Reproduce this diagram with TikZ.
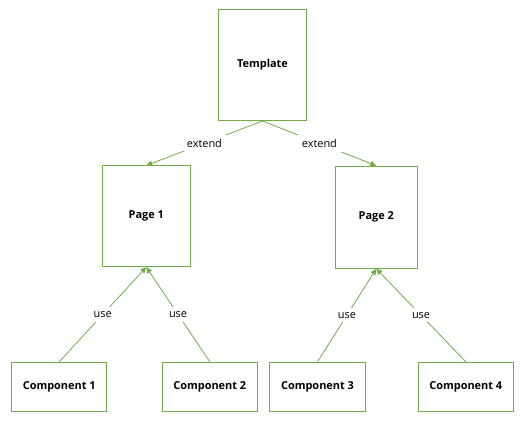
\documentclass[tikz,border=0pt]{standalone}
\usepackage{fontspec}
\setmainfont{Open Sans}
\usetikzlibrary{arrows.meta}
\definecolor{linegreen}{HTML}{70AD47}
\tikzset{
	box/.style={draw=linegreen, line width=0.75pt, inner sep=0pt, font=\bfseries\fontsize{8.2}{10}\selectfont},
	comp/.style={box, minimum width=71.5pt, minimum height=36.75pt},
	link/.style={draw=linegreen, line width=0.6pt, -{Triangle[length=4.5pt,width=4pt]}},
	tag/.style={fill=white, inner xsep=4pt, inner ysep=3pt, font=\fontsize{8.2}{10}\selectfont}
}

\begin{document}
\begin{tikzpicture}[x=0.75pt,y=-0.75pt]
\useasboundingbox (0,0) rectangle (524,422);

\node[box, minimum width=66.5pt, minimum height=83.25pt] (template) at (262.5,65) {Template};
\node[box, minimum width=66pt, minimum height=75.5pt] (page1) at (146.3,216.3) {Page 1};
\node[box, minimum width=61.5pt, minimum height=76.5pt] (page2) at (376.3,217.2) {Page 2};

\foreach \n/\x in {1/59.2,2/209.8,3/317.5,4/465.8}
\node[comp] (comp\n) at (\x,386.8) {Component \n};

\draw[link] (template.south) -- node[tag] {extend} (page1.north);
\draw[link] (template.south) -- node[tag] {extend} (page2.north);

\foreach \n/\p in {1/page1,2/page1,3/page2,4/page2}
\draw[link] (comp\n.north) -- node[tag] {use} (\p.south);

\end{tikzpicture}
\end{document}
